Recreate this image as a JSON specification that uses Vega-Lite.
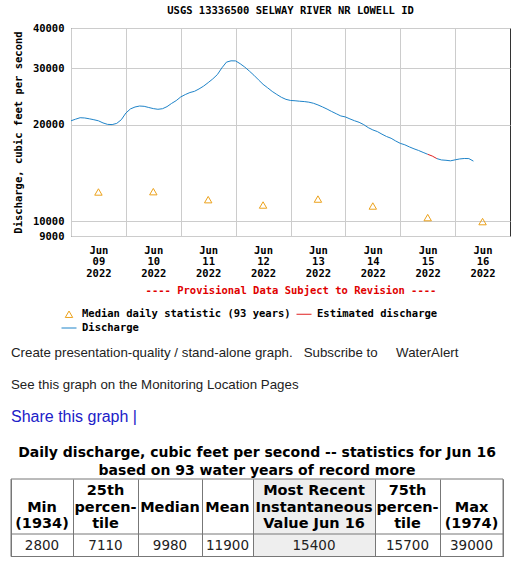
{
  "$schema": "https://vega.github.io/schema/vega-lite/v6.json",
  "background": "white",
  "padding": {"left": 10, "top": 5, "right": 0, "bottom": 0},
  "spacing": 0,
  "resolve": {
    "scale": {"color": "independent", "shape": "independent", "size": "independent"},
    "legend": {"color": "independent", "shape": "independent", "size": "independent"}
  },
  "config": {"font": "DejaVu Sans"},
  "datasets": {
    "flow": [
      {"t": "2022-06-09T00:00", "cfs": 20560, "series": "Discharge", "seg": "a"},
      {"t": "2022-06-09T02:00", "cfs": 20800, "series": "Discharge", "seg": "a"},
      {"t": "2022-06-09T04:00", "cfs": 21020, "series": "Discharge", "seg": "a"},
      {"t": "2022-06-09T06:00", "cfs": 20980, "series": "Discharge", "seg": "a"},
      {"t": "2022-06-09T08:00", "cfs": 20860, "series": "Discharge", "seg": "a"},
      {"t": "2022-06-09T10:00", "cfs": 20720, "series": "Discharge", "seg": "a"},
      {"t": "2022-06-09T12:00", "cfs": 20560, "series": "Discharge", "seg": "a"},
      {"t": "2022-06-09T14:00", "cfs": 20250, "series": "Discharge", "seg": "a"},
      {"t": "2022-06-09T16:00", "cfs": 20040, "series": "Discharge", "seg": "a"},
      {"t": "2022-06-09T18:00", "cfs": 20010, "series": "Discharge", "seg": "a"},
      {"t": "2022-06-09T20:00", "cfs": 20180, "series": "Discharge", "seg": "a"},
      {"t": "2022-06-09T22:00", "cfs": 20720, "series": "Discharge", "seg": "a"},
      {"t": "2022-06-10T00:00", "cfs": 21740, "series": "Discharge", "seg": "a"},
      {"t": "2022-06-10T02:00", "cfs": 22390, "series": "Discharge", "seg": "a"},
      {"t": "2022-06-10T04:00", "cfs": 22700, "series": "Discharge", "seg": "a"},
      {"t": "2022-06-10T06:00", "cfs": 22860, "series": "Discharge", "seg": "a"},
      {"t": "2022-06-10T08:00", "cfs": 22810, "series": "Discharge", "seg": "a"},
      {"t": "2022-06-10T10:00", "cfs": 22620, "series": "Discharge", "seg": "a"},
      {"t": "2022-06-10T12:00", "cfs": 22440, "series": "Discharge", "seg": "a"},
      {"t": "2022-06-10T14:00", "cfs": 22330, "series": "Discharge", "seg": "a"},
      {"t": "2022-06-10T16:00", "cfs": 22420, "series": "Discharge", "seg": "a"},
      {"t": "2022-06-10T18:00", "cfs": 22760, "series": "Discharge", "seg": "a"},
      {"t": "2022-06-10T20:00", "cfs": 23290, "series": "Discharge", "seg": "a"},
      {"t": "2022-06-10T22:00", "cfs": 23760, "series": "Discharge", "seg": "a"},
      {"t": "2022-06-11T00:00", "cfs": 24400, "series": "Discharge", "seg": "a"},
      {"t": "2022-06-11T02:00", "cfs": 24820, "series": "Discharge", "seg": "a"},
      {"t": "2022-06-11T04:00", "cfs": 25180, "series": "Discharge", "seg": "a"},
      {"t": "2022-06-11T06:00", "cfs": 25400, "series": "Discharge", "seg": "a"},
      {"t": "2022-06-11T08:00", "cfs": 25840, "series": "Discharge", "seg": "a"},
      {"t": "2022-06-11T10:00", "cfs": 26370, "series": "Discharge", "seg": "a"},
      {"t": "2022-06-11T12:00", "cfs": 27040, "series": "Discharge", "seg": "a"},
      {"t": "2022-06-11T14:00", "cfs": 27760, "series": "Discharge", "seg": "a"},
      {"t": "2022-06-11T16:00", "cfs": 28630, "series": "Discharge", "seg": "a"},
      {"t": "2022-06-11T18:00", "cfs": 30060, "series": "Discharge", "seg": "a"},
      {"t": "2022-06-11T20:00", "cfs": 31320, "series": "Discharge", "seg": "a"},
      {"t": "2022-06-11T22:00", "cfs": 31610, "series": "Discharge", "seg": "a"},
      {"t": "2022-06-12T00:00", "cfs": 31590, "series": "Discharge", "seg": "a"},
      {"t": "2022-06-12T02:00", "cfs": 30960, "series": "Discharge", "seg": "a"},
      {"t": "2022-06-12T04:00", "cfs": 30220, "series": "Discharge", "seg": "a"},
      {"t": "2022-06-12T06:00", "cfs": 29370, "series": "Discharge", "seg": "a"},
      {"t": "2022-06-12T08:00", "cfs": 28510, "series": "Discharge", "seg": "a"},
      {"t": "2022-06-12T10:00", "cfs": 27580, "series": "Discharge", "seg": "a"},
      {"t": "2022-06-12T12:00", "cfs": 26710, "series": "Discharge", "seg": "a"},
      {"t": "2022-06-12T14:00", "cfs": 26050, "series": "Discharge", "seg": "a"},
      {"t": "2022-06-12T16:00", "cfs": 25380, "series": "Discharge", "seg": "a"},
      {"t": "2022-06-12T18:00", "cfs": 24840, "series": "Discharge", "seg": "a"},
      {"t": "2022-06-12T20:00", "cfs": 24340, "series": "Discharge", "seg": "a"},
      {"t": "2022-06-12T22:00", "cfs": 23980, "series": "Discharge", "seg": "a"},
      {"t": "2022-06-13T00:00", "cfs": 23790, "series": "Discharge", "seg": "a"},
      {"t": "2022-06-13T02:00", "cfs": 23740, "series": "Discharge", "seg": "a"},
      {"t": "2022-06-13T04:00", "cfs": 23660, "series": "Discharge", "seg": "a"},
      {"t": "2022-06-13T06:00", "cfs": 23600, "series": "Discharge", "seg": "a"},
      {"t": "2022-06-13T08:00", "cfs": 23500, "series": "Discharge", "seg": "a"},
      {"t": "2022-06-13T10:00", "cfs": 23320, "series": "Discharge", "seg": "a"},
      {"t": "2022-06-13T12:00", "cfs": 23040, "series": "Discharge", "seg": "a"},
      {"t": "2022-06-13T14:00", "cfs": 22710, "series": "Discharge", "seg": "a"},
      {"t": "2022-06-13T16:00", "cfs": 22360, "series": "Discharge", "seg": "a"},
      {"t": "2022-06-13T18:00", "cfs": 21980, "series": "Discharge", "seg": "a"},
      {"t": "2022-06-13T20:00", "cfs": 21630, "series": "Discharge", "seg": "a"},
      {"t": "2022-06-13T22:00", "cfs": 21290, "series": "Discharge", "seg": "a"},
      {"t": "2022-06-14T00:00", "cfs": 21140, "series": "Discharge", "seg": "a"},
      {"t": "2022-06-14T02:00", "cfs": 20840, "series": "Discharge", "seg": "a"},
      {"t": "2022-06-14T04:00", "cfs": 20570, "series": "Discharge", "seg": "a"},
      {"t": "2022-06-14T06:00", "cfs": 20340, "series": "Discharge", "seg": "a"},
      {"t": "2022-06-14T08:00", "cfs": 20010, "series": "Discharge", "seg": "a"},
      {"t": "2022-06-14T10:00", "cfs": 19580, "series": "Discharge", "seg": "a"},
      {"t": "2022-06-14T12:00", "cfs": 19260, "series": "Discharge", "seg": "a"},
      {"t": "2022-06-14T14:00", "cfs": 19030, "series": "Discharge", "seg": "a"},
      {"t": "2022-06-14T16:00", "cfs": 18680, "series": "Discharge", "seg": "a"},
      {"t": "2022-06-14T18:00", "cfs": 18370, "series": "Discharge", "seg": "a"},
      {"t": "2022-06-14T20:00", "cfs": 18140, "series": "Discharge", "seg": "a"},
      {"t": "2022-06-14T22:00", "cfs": 17790, "series": "Discharge", "seg": "a"},
      {"t": "2022-06-15T00:00", "cfs": 17490, "series": "Discharge", "seg": "a"},
      {"t": "2022-06-15T02:00", "cfs": 17310, "series": "Discharge", "seg": "a"},
      {"t": "2022-06-15T04:00", "cfs": 17050, "series": "Discharge", "seg": "a"},
      {"t": "2022-06-15T06:00", "cfs": 16820, "series": "Discharge", "seg": "a"},
      {"t": "2022-06-15T08:00", "cfs": 16620, "series": "Discharge", "seg": "a"},
      {"t": "2022-06-15T10:00", "cfs": 16390, "series": "Discharge", "seg": "a"},
      {"t": "2022-06-15T12:00", "cfs": 16170, "series": "Discharge", "seg": "a"},
      {"t": "2022-06-15T12:00", "cfs": 16170, "series": "Estimated discharge", "seg": "b"},
      {"t": "2022-06-15T14:00", "cfs": 15970, "series": "Estimated discharge", "seg": "b"},
      {"t": "2022-06-15T16:00", "cfs": 15680, "series": "Estimated discharge", "seg": "b"},
      {"t": "2022-06-15T16:00", "cfs": 15680, "series": "Discharge", "seg": "c"},
      {"t": "2022-06-15T18:00", "cfs": 15530, "series": "Discharge", "seg": "c"},
      {"t": "2022-06-15T20:00", "cfs": 15490, "series": "Discharge", "seg": "c"},
      {"t": "2022-06-15T22:00", "cfs": 15430, "series": "Discharge", "seg": "c"},
      {"t": "2022-06-16T00:00", "cfs": 15540, "series": "Discharge", "seg": "c"},
      {"t": "2022-06-16T02:00", "cfs": 15640, "series": "Discharge", "seg": "c"},
      {"t": "2022-06-16T04:00", "cfs": 15690, "series": "Discharge", "seg": "c"},
      {"t": "2022-06-16T06:00", "cfs": 15680, "series": "Discharge", "seg": "c"},
      {"t": "2022-06-16T08:00", "cfs": 15400, "series": "Discharge", "seg": "c"}
    ],
    "median": [
      {"t": "2022-06-09T12:00", "cfs": 12340, "series": "Median daily statistic (93 years)"},
      {"t": "2022-06-10T12:00", "cfs": 12370, "series": "Median daily statistic (93 years)"},
      {"t": "2022-06-11T12:00", "cfs": 11680, "series": "Median daily statistic (93 years)"},
      {"t": "2022-06-12T12:00", "cfs": 11240, "series": "Median daily statistic (93 years)"},
      {"t": "2022-06-13T12:00", "cfs": 11730, "series": "Median daily statistic (93 years)"},
      {"t": "2022-06-14T12:00", "cfs": 11160, "series": "Median daily statistic (93 years)"},
      {"t": "2022-06-15T12:00", "cfs": 10270, "series": "Median daily statistic (93 years)"},
      {"t": "2022-06-16T12:00", "cfs": 9980, "series": "Median daily statistic (93 years)"}
    ],
    "links": [
      {"line": 1, "kind": "plain", "text": "Create presentation-quality / stand-alone graph.\u00a0\u00a0\u00a0Subscribe to \u00a0\u00a0\u00a0\u00a0WaterAlert"},
      {"line": 2, "kind": "plain", "text": "See this graph on the Monitoring Location Pages"},
      {"line": 3, "kind": "link", "text": "Share this graph |"}
    ],
    "cells": [
      {"row": 0, "col": 0, "label": ["", "Min", "(1934)"]},
      {"row": 0, "col": 1, "label": ["25th", "percen-", "tile"]},
      {"row": 0, "col": 2, "label": ["", "", "Median"]},
      {"row": 0, "col": 3, "label": ["", "", "Mean"]},
      {"row": 0, "col": 4, "label": ["Most Recent", "Instantaneous", "Value Jun 16"]},
      {"row": 0, "col": 5, "label": ["75th", "percen-", "tile"]},
      {"row": 0, "col": 6, "label": ["", "Max", "(1974)"]},
      {"row": 1, "col": 0, "value": 2800},
      {"row": 1, "col": 1, "value": 7110},
      {"row": 1, "col": 2, "value": 9980},
      {"row": 1, "col": 3, "value": 11900},
      {"row": 1, "col": 4, "value": 15400},
      {"row": 1, "col": 5, "value": 15700},
      {"row": 1, "col": 6, "value": 39000}
    ]
  },
  "vconcat": [
    {
      "width": 439,
      "height": 208,
      "title": {
        "text": "USGS 13336500 SELWAY RIVER NR LOWELL ID",
        "font": "DejaVu Sans Mono", "fontSize": 10.5, "fontWeight": "bold",
        "color": "#000", "anchor": "middle", "offset": 7
      },
      "view": {"stroke": "#333", "strokeWidth": 1},
      "layer": [
        {
          "data": {"name": "flow"},
          "mark": {"type": "line", "strokeWidth": 1},
          "encoding": {
            "x": {
              "field": "t", "type": "temporal",
              "scale": {"domain": [{"year": 2022, "month": "jun", "date": 9}, {"year": 2022, "month": "jun", "date": 17}]},
              "axis": {
                "values": [
                  {"year": 2022, "month": "jun", "date": 9}, {"year": 2022, "month": "jun", "date": 10},
                  {"year": 2022, "month": "jun", "date": 11}, {"year": 2022, "month": "jun", "date": 12},
                  {"year": 2022, "month": "jun", "date": 13}, {"year": 2022, "month": "jun", "date": 14},
                  {"year": 2022, "month": "jun", "date": 15}, {"year": 2022, "month": "jun", "date": 16}
                ],
                "labelExpr": "[timeFormat(datum.value, '%b'), timeFormat(datum.value, '%d'), timeFormat(datum.value, '%Y')]",
                "labelOffset": 27.4,
                "grid": true, "gridColor": "#cccccc", "gridWidth": 1,
                "ticks": false, "domain": false,
                "labelFont": "DejaVu Sans Mono", "labelFontSize": 10.5, "labelFontWeight": "bold",
                "labelColor": "#000", "labelLineHeight": 11.7, "labelPadding": 9,
                "labelFlush": false, "labelOverlap": false, "labelBound": false,
                "title": "---- Provisional Data Subject to Revision ----",
                "titleColor": "#e00000", "titleFont": "DejaVu Sans Mono", "titleFontSize": 10.5,
                "titleFontWeight": "bold", "titlePadding": 7
              }
            },
            "y": {
              "field": "cfs", "type": "quantitative",
              "scale": {"type": "log", "domain": [9000, 40000], "nice": false},
              "axis": {
                "values": [9000, 10000, 20000, 30000, 40000],
                "format": "d",
                "grid": true, "gridColor": "#cccccc", "gridWidth": 1,
                "ticks": false, "domain": false,
                "labelFont": "DejaVu Sans Mono", "labelFontSize": 10.5, "labelFontWeight": "bold",
                "labelColor": "#000", "labelPadding": 7, "labelFlush": false, "labelOverlap": false,
                "title": "Discharge, cubic feet per second",
                "titleFont": "DejaVu Sans Mono", "titleFontSize": 10.5, "titleFontWeight": "bold",
                "titleColor": "#000", "titlePadding": 9
              }
            },
            "color": {
              "field": "series", "type": "nominal",
              "scale": {
                "domain": ["Median daily statistic (93 years)", "Estimated discharge", "Discharge"],
                "range": ["#eca21c", "#e02020", "#1f84c9"]
              },
              "legend": {
                "title": null, "orient": "none", "legendX": -10, "legendY": 278, "direction": "horizontal", "columns": 2,
                "labelFont": "DejaVu Sans Mono", "labelFontSize": 10.5, "labelFontWeight": "bold",
                "labelColor": "#000", "labelLimit": 400, "labelOffset": 5, "symbolStrokeWidth": 1, "symbolSize": 225,
                "columnPadding": 3, "rowPadding": 0,
                "encode": {"symbols": {"update": {"size": {"signal": "datum.value === 'Median daily statistic (93 years)' ? 55 : 225"}}}}
              }
            },
            "detail": {"field": "seg"}
          }
        },
        {
          "data": {"name": "median"},
          "mark": {"type": "point", "filled": false, "size": 55, "strokeWidth": 1, "opacity": 1},
          "encoding": {
            "x": {"field": "t", "type": "temporal"},
            "y": {"field": "cfs", "type": "quantitative"},
            "color": {"field": "series", "type": "nominal"},
            "shape": {
              "field": "series", "type": "nominal",
              "scale": {
                "domain": ["Median daily statistic (93 years)", "Estimated discharge", "Discharge"],
                "range": ["triangle-up", "stroke", "stroke"]
              },
              "legend": {
                "title": null, "orient": "none", "legendX": -10, "legendY": 278, "direction": "horizontal", "columns": 2,
                "labelFont": "DejaVu Sans Mono", "labelFontSize": 10.5, "labelFontWeight": "bold",
                "labelColor": "#000", "labelLimit": 400, "labelOffset": 5, "symbolStrokeWidth": 1, "symbolSize": 225,
                "columnPadding": 3, "rowPadding": 0,
                "encode": {"symbols": {"update": {"size": {"signal": "datum.value === 'Median daily statistic (93 years)' ? 55 : 225"}}}}
              }
            }
          }
        }
      ]
    },
    {
      "width": 432,
      "height": 110.7,
      "data": {"name": "links"},
      "view": {"stroke": null},
      "mark": {"type": "text", "align": "left", "baseline": "middle", "font": "Liberation Sans"},
      "encoding": {
        "x": {"datum": 0, "type": "quantitative", "scale": {"domain": [0, 1], "range": [-60, 432]}, "axis": null},
        "y": {"field": "line", "type": "ordinal", "scale": {"type": "point", "range": [18.4, 82.4], "padding": 0}, "axis": null},
        "text": {"field": "text"},
        "color": {"field": "kind", "type": "nominal", "scale": {"domain": ["plain", "link"], "range": ["#222222", "#2020c8"]}, "legend": null},
        "size": {"field": "kind", "type": "ordinal", "scale": {"domain": ["plain", "link"], "range": [13.3, 16]}, "legend": null}
      }
    },
    {
      "width": 432,
      "height": 77.5,
      "title": {
        "text": ["Daily discharge, cubic feet per second -- statistics for Jun 16", "based on 93 water years of record more"],
        "font": "DejaVu Sans", "fontSize": 14, "fontWeight": "bold", "color": "#000",
        "anchor": "middle", "lineHeight": 18, "offset": 0.5, "dx": -30
      },
      "data": {"name": "cells"},
      "view": {"stroke": null},
      "layer": [
        {
          "transform": [{"filter": "datum.col === 4 && datum.row === 0"}],
          "mark": {"type": "rect", "color": "#eeeeee"},
          "encoding": {
            "x": {
              "datum": 3.5, "type": "quantitative",
              "scale": {"domain": [-0.5, 0.5, 1.5, 2.5, 3.5, 4.5, 5.5, 6.5], "range": [-60, 2, 67, 131, 182, 304, 369, 432], "zero": false, "nice": false},
              "axis": {"values": [-0.5, 0.5, 1.5, 2.5, 3.5, 4.5, 5.5, 6.5], "grid": true, "gridColor": "#777", "labels": false, "ticks": false, "domain": false, "title": null, "zindex": 1}
            },
            "x2": {"datum": 4.5},
            "y": {
              "datum": -0.5, "type": "quantitative",
              "scale": {"domain": [-0.5, 0, 0.5, 1, 1.5], "range": [0, 16, 55, 67.3, 77.5], "zero": false, "nice": false},
              "axis": null
            },
            "y2": {"datum": 1.5}
          }
        },
        {
          "transform": [{"filter": "datum.col === 0 && datum.row === 0"}],
          "mark": {"type": "rect", "filled": false, "color": "#777", "strokeWidth": 1},
          "encoding": {
            "x": {"datum": -0.5, "type": "quantitative"},
            "x2": {"datum": 6.5},
            "y": {"datum": -0.5, "type": "quantitative"},
            "y2": {"datum": 1.5}
          }
        },
        {
          "transform": [{"filter": "datum.col === 0 && datum.row === 0"}],
          "mark": {"type": "rule", "color": "#777", "strokeWidth": 1},
          "encoding": {
            "x": {"datum": -0.5, "type": "quantitative"},
            "x2": {"datum": 6.5},
            "y": {"datum": 0.5, "type": "quantitative"}
          }
        },
        {
          "transform": [{"filter": "datum.row === 0"}],
          "mark": {"type": "text", "font": "DejaVu Sans", "fontSize": 14.5, "fontWeight": "bold", "baseline": "alphabetic", "lineHeight": 16.7, "color": "#000"},
          "encoding": {
            "x": {"field": "col", "type": "quantitative"},
            "y": {"field": "row", "type": "quantitative"},
            "text": {"field": "label"}
          }
        },
        {
          "transform": [{"filter": "datum.row === 1"}],
          "mark": {"type": "text", "font": "DejaVu Sans", "fontSize": 13.5, "baseline": "middle", "color": "#222"},
          "encoding": {
            "x": {"field": "col", "type": "quantitative"},
            "y": {"field": "row", "type": "quantitative"},
            "text": {"field": "value", "format": "d"}
          }
        }
      ]
    }
  ]
}
